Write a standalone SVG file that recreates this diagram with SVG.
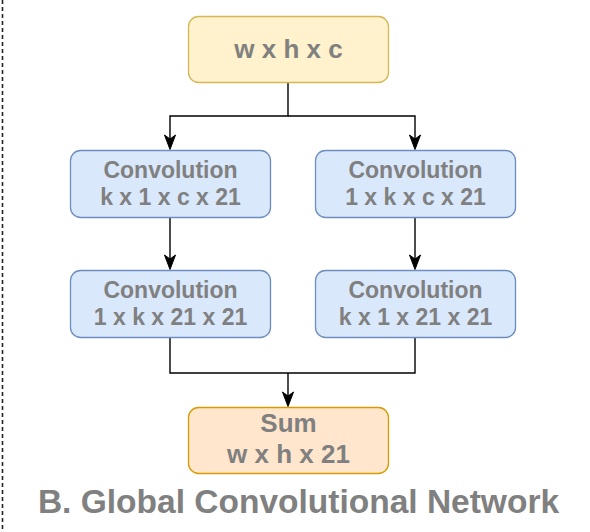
<svg xmlns="http://www.w3.org/2000/svg" width="590" height="532" viewBox="0 0 590 532">
<defs>
<style>
.box{stroke-width:1.3}
.yellow{fill:#fff2cc;stroke:#d6b656}
.blue{fill:#dae8fc;stroke:#6c8ebf}
.orange{fill:#ffe6cc;stroke:#d79b00}
.t{font-family:"Liberation Sans",Arial,Helvetica,sans-serif;font-weight:bold;fill:#808080;text-anchor:middle}
.t23{font-size:23px}
.t26{font-size:26px}
.edge{fill:none;stroke:#000;stroke-width:1.4}
.head{fill:#000;stroke:#000;stroke-width:1}
</style>
</defs>
<rect width="590" height="532" fill="#ffffff"/>
<line x1="2.5" y1="0" x2="2.5" y2="532" stroke="#222" stroke-width="1.6" stroke-dasharray="4 3"/>

<g id="connectors">
  <path class="edge" d="M288 82 V116 H170 V142"/>
  <path class="edge" d="M288 116 H415 V142"/>
  <path class="edge" d="M170 217 V262"/>
  <path class="edge" d="M415 217 V262"/>
  <path class="edge" d="M170 337 V373 H415 V337"/>
  <path class="edge" d="M288 373 V399"/>
  <path class="head" d="M170 149.5 L164.5 135 L170 139 L175.5 135 Z"/>
  <path class="head" d="M415 149.5 L409.5 135 L415 139 L420.5 135 Z"/>
  <path class="head" d="M170 269.5 L164.5 255 L170 259 L175.5 255 Z"/>
  <path class="head" d="M415 269.5 L409.5 255 L415 259 L420.5 255 Z"/>
  <path class="head" d="M288 406.5 L282.5 392 L288 396 L293.5 392 Z"/>
</g>

<g id="input">
  <rect class="box yellow" x="188.5" y="16.5" width="200" height="66" rx="10"/>
  <text class="t t26" x="288.5" y="58">w x h x c</text>
</g>

<g id="conv-left-1">
  <rect class="box blue" x="70.5" y="150.5" width="200" height="67" rx="10"/>
  <text class="t t23" x="170.5" y="178">Convolution</text>
  <text class="t t23" x="170.5" y="204.5">k x 1 x c x 21</text>
</g>

<g id="conv-right-1">
  <rect class="box blue" x="315.5" y="150.5" width="200" height="67" rx="10"/>
  <text class="t t23" x="415.5" y="178">Convolution</text>
  <text class="t t23" x="415.5" y="204.5">1 x k x c x 21</text>
</g>

<g id="conv-left-2">
  <rect class="box blue" x="70.5" y="270.5" width="200" height="67" rx="10"/>
  <text class="t t23" x="170.5" y="298">Convolution</text>
  <text class="t t23" x="170.5" y="324.5">1 x k x 21 x 21</text>
</g>

<g id="conv-right-2">
  <rect class="box blue" x="315.5" y="270.5" width="200" height="67" rx="10"/>
  <text class="t t23" x="415.5" y="298">Convolution</text>
  <text class="t t23" x="415.5" y="324.5">k x 1 x 21 x 21</text>
</g>

<g id="sum">
  <rect class="box orange" x="188.5" y="407.5" width="200" height="66" rx="10"/>
  <text class="t t26" x="288.5" y="432">Sum</text>
  <text class="t t26" x="288.5" y="463">w x h x 21</text>
</g>

<g id="title">
  <text class="t" x="298.5" y="513" style="font-size:33.5px">B. Global Convolutional Network</text>
</g>
</svg>
